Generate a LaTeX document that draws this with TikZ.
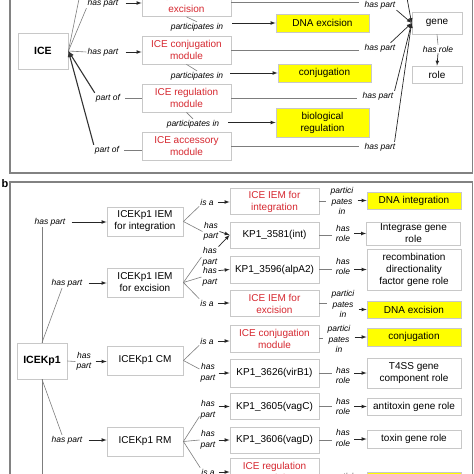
\documentclass[tikz,border=0pt]{standalone}
\usepackage{fontspec}
\setmainfont{Liberation Sans}
\usepackage{tikz}
\usetikzlibrary{calc}
\usetikzlibrary{shapes,arrows}

\definecolor{icered}{RGB}{214,40,48}
\definecolor{hlyellow}{RGB}{255,255,0}
\definecolor{boxgray}{RGB}{200,200,200}
\definecolor{linegray}{RGB}{125,125,125}
\definecolor{framegray}{RGB}{130,130,130}

\begin{document}
\begin{tikzpicture}[x=1pt,y=-1pt,
    box/.style={draw=boxgray,line width=0.8pt,fill=white,align=center,inner sep=1pt,
      font=\fontsize{10}{12}\selectfont,minimum height=26pt},
    modbox/.style={box,text=icered,minimum width=89pt,minimum height=28pt},
    rootbox/.style={box,minimum width=50pt,minimum height=36pt,font=\fontsize{10.5}{12}\selectfont\bfseries},
    kpbox/.style={box,minimum width=76pt,minimum height=29pt},
    cbox/.style={box,minimum width=89pt},
    dbox/.style={box,minimum width=94pt,minimum height=17pt},
    hlbox/.style={fill=hlyellow},
    lbl/.style={font=\fontsize{8.5}{10.5}\selectfont\itshape,inner sep=1pt,align=center},
    link/.style={draw=linegray,line width=0.6pt},
    arr/.style={->,>=latex,line width=0.7pt,draw=black!85},
    partof/.style={->,>=latex,line width=1.1pt,draw=black!80},
    frame/.style={draw=framegray,line width=1.2pt}]

    \useasboundingbox (0,0) rectangle (474,474);

    % panel a
    \draw[frame] (10,-40) rectangle (472.5,173);

    \node[rootbox] (ice) at (43,51) {ICE};
    \node[modbox] (iemex) at (186.5,2.5) {ICE IEM for\\excision};
    \node[modbox] (conjmod) at (186.5,50) {ICE conjugation\\module};
    \node[modbox] (regmod) at (186.5,98) {ICE regulation\\module};
    \node[modbox] (accmod) at (186.5,146.5) {ICE accessory\\module};

    \coordinate (hpa0) at (88,-45);
    \node[lbl] (hpa1) at (103,3) {has part};
    \node[lbl] (hpa2) at (103,52) {has part};
    \node[lbl] (poa3) at (108,98) {part of};
    \node[lbl] (poa4) at (107,150) {part of};

    \draw[link] (ice.east) -- (hpa0);
    \draw[link] (ice.east) -- (hpa1.south west);
    \draw[link] (ice.east) -- (hpa2.west);
    \draw[partof] (poa3.north west) -- (ice.east);
    \draw[partof] (poa4.north west) -- (ice.east);
    \draw[arr] ([xshift=6pt]hpa1.east) -- (hpa1.east -| iemex.west);
    \draw[arr] ([xshift=6pt]hpa2.east) -- (hpa2.east -| conjmod.west);
    \draw[link] ([xshift=4pt]poa3.east) -- (poa3.east -| regmod.west);
    \draw[link] ([xshift=4pt]poa4.east) -- (poa4.east -| accmod.west);

    \node[box,hlbox,minimum width=93pt,minimum height=18pt] (dnaex) at (322.5,23) {DNA excision};
    \node[box,hlbox,minimum width=93pt,minimum height=18pt] (conja) at (324.5,73) {conjugation};
    \node[box,hlbox,minimum width=93pt,minimum height=29pt] (bioreg) at (322.5,122.5) {biological\\regulation};

    \node[lbl] (pia1) at (197,27) {participates in};
    \node[lbl] (pia2) at (197,76) {participates in};
    \node[lbl] (pia3) at (193,124) {participates in};

    \draw[link] (iemex.south) -- (pia1.north);
    \draw[link] (conjmod.south) -- (pia2.north);
    \draw[link] (regmod.south) -- (pia3.north);
    \draw[arr] ([xshift=8pt]pia1.east |- dnaex.west) -- (dnaex.west);
    \draw[arr] ([xshift=6pt]pia2.east |- conja.west) -- (conja.west);
    \draw[arr] ([xshift=8pt]pia3.east |- bioreg.west) -- (bioreg.west);

    \node[box,minimum width=50pt,minimum height=22pt] (gene) at (437,23) {gene};
    \node[box,minimum width=50pt,minimum height=17pt] (role) at (437,74.5) {role};
    \node[lbl] (hrole) at (438,49) {has role};
    \draw[link] (gene.south) -- (hrole.north);
    \draw[arr] (hrole.south) -- (role.north);

    \coordinate (hpr0) at (400,-40);
    \node[lbl] (hpr1) at (380,5) {has part};
    \node[lbl] (hpr2) at (380,48) {has part};
    \node[lbl] (hpr3) at (378,96) {has part};
    \node[lbl] (hpr4) at (380,147) {has part};

    \draw[link] (iemex.east) -- ([xshift=-4pt]iemex.east -| hpr1.west);
    \draw[link] (conjmod.east) -- ([xshift=-4pt]conjmod.east -| hpr2.west);
    \draw[link] (regmod.east) -- ([xshift=-4pt]regmod.east -| hpr3.west);
    \draw[link] (accmod.east) -- ([xshift=-4pt]accmod.east -| hpr4.west);
    \draw[arr] (hpr0) -- (gene.west);
    \draw[arr] (hpr1.south east) -- (gene.west);
    \draw[arr] ([xshift=-6pt]hpr2.north east) -- (gene.west);
    \draw[arr] (hpr3.north east) -- (gene.west);
    \draw[arr] ([xshift=-2pt]hpr4.north east) -- (gene.west);

    % panel b
    \draw[frame] (10,182) rectangle (472.5,530);
    \node[font=\fontsize{11}{12}\selectfont\bfseries,inner sep=0pt] (tagb) at (5,184) {b};

    \node[rootbox] (icekp) at (42,361) {ICEKp1};
    \node[kpbox] (iemint) at (145,221.5) {ICEKp1 IEM\\for integration};
    \node[kpbox] (iemexc) at (145,282.5) {ICEKp1 IEM\\for excision};
    \node[kpbox] (kpcm) at (145,360.5) {ICEKp1 CM};
    \node[kpbox] (kprm) at (145,441.5) {ICEKp1 RM};

    \node[lbl] (hpb1) at (50,222) {has part};
    \node[lbl] (hpb2) at (67,283) {has part};
    \node[lbl] (hpb3) at (84,361.5) {has\\part};
    \node[lbl] (hpb4) at (67,440) {has part};
    \coordinate (hpb5) at (42,530);

    \draw[link] (icekp.north) -- (icekp.north |- hpb1.south);
    \draw[link] (icekp.north) -- ([xshift=-5pt]hpb2.south);
    \draw[link] (icekp.east) -- (hpb3.west);
    \draw[link] (icekp.south) -- ([xshift=-5pt]hpb4.north);
    \draw[link] (icekp.south) -- (hpb5);
    \draw[arr] ([xshift=5pt]hpb1.east) -- (hpb1.east -| iemint.west);
    \draw[arr] ([xshift=5pt]hpb2.east) -- (hpb2.east -| iemexc.west);
    \draw[arr] ([xshift=3pt]hpb3.east) -- (hpb3.east -| kpcm.west);
    \draw[arr] ([xshift=5pt]hpb4.east) -- (hpb4.east -| kprm.west);

    \node[cbox,text=icered] (ciemint) at (274.5,201.5) {ICE IEM for\\integration};
    \node[cbox] (kp3581) at (274.5,235) {KP1\_3581(int)};
    \node[cbox,minimum height=27pt] (kp3596) at (274.5,269.5) {KP1\_3596(alpA2)};
    \node[cbox,text=icered] (ciemexc) at (274.5,303.5) {ICE IEM for\\excision};
    \node[cbox,text=icered,minimum height=27pt] (cconj) at (274.5,338.5) {ICE conjugation\\module};
    \node[cbox,minimum height=28pt] (kp3626) at (274.5,373) {KP1\_3626(virB1)};
    \node[cbox] (kp3605) at (274.5,406.5) {KP1\_3605(vagC)};
    \node[cbox] (kp3606) at (274.5,440) {KP1\_3606(vagD)};
    \node[cbox,text=icered,minimum height=28pt] (creg) at (274.5,472) {ICE regulation\\module};

    \node[lbl] (isa1) at (207,202) {is a};
    \node[lbl] (hpc1) at (211,231.5) {has\\part};
    \node[lbl] (hpc2) at (210,257) {has\\part};
    \node[lbl] (hpc3) at (210,277) {has\\part};
    \node[lbl] (isa2) at (207,303) {is a};
    \node[lbl] (isa3) at (207,341) {is a};
    \node[lbl] (hpc4) at (208,373) {has\\part};
    \node[lbl] (hpc5) at (208,410) {has\\part};
    \node[lbl] (hpc6) at (208,440) {has\\part};
    \node[lbl] (isa4) at (208,472) {is a};

    \draw[link] (iemint.east) -- (isa1.south west);
    \draw[link] (iemint.east) -- (hpc1.west);
    \draw[arr] ([xshift=3pt]isa1.east) -- (isa1.east -| ciemint.west);
    \draw[arr] (hpc1.east) -- (kp3581.west);
    \draw[link] (iemexc.east) -- (hpc2.west);
    \draw[link] (iemexc.east) -- (hpc3.west);
    \draw[link] (iemexc.east) -- (isa2.north west);
    \draw[arr] (hpc2.north east) -- (kp3581.west);
    \draw[arr] ([yshift=-4pt]hpc3.north east) -- (kp3596.west);
    \draw[arr] ([xshift=3pt]isa2.east) -- (isa2.east -| ciemexc.west);
    \draw[link] (kpcm.east) -- (isa3.south west);
    \draw[link] (kpcm.east) -- ([yshift=4pt]hpc4.west);
    \draw[arr] ([xshift=3pt]isa3.east) -- (isa3.east -| cconj.west);
    \draw[arr] ([xshift=2pt]hpc4.east |- kp3626.west) -- (kp3626.west);
    \draw[link] (kprm.east) -- ([yshift=4pt]hpc5.south west);
    \draw[link] (kprm.east) -- (hpc6.west);
    \draw[link] (kprm.east) -- (isa4.north west);
    \draw[arr] ([xshift=2pt]hpc5.east |- kp3605.west) -- (kp3605.west);
    \draw[arr] ([xshift=2pt]hpc6.east |- kp3606.west) -- (kp3606.west);
    \draw[arr] ([xshift=3pt]isa4.east) -- (isa4.east -| creg.west);

    \node[dbox,hlbox] (dnaint) at (414,200.5) {DNA integration};
    \node[dbox,minimum height=23pt] (introle) at (413.5,233.5) {Integrase gene\\role};
    \node[dbox,minimum height=41pt] (recrole) at (414,269.5) {recombination\\directionality\\factor gene role};
    \node[dbox,hlbox] (dnaexb) at (414,309.5) {DNA excision};
    \node[dbox,hlbox,minimum height=18pt] (conjb) at (414,337) {conjugation};
    \node[dbox,minimum height=30pt] (t4ss) at (414,373) {T4SS gene\\component role};
    \node[dbox] (antitox) at (414,406.5) {antitoxin gene role};
    \node[dbox,minimum height=18pt] (toxrole) at (414,439) {toxin gene role};
    \node[dbox,hlbox,minimum height=29pt] (bioregb) at (414,486.5) {};

    \node[lbl] (pib1) at (342,201) {partici\\pates\\in};
    \node[lbl] (hrb2) at (343,233.5) {has\\role};
    \node[lbl] (hrb3) at (343,266.5) {has\\role};
    \node[lbl] (pib4) at (343,304) {partici\\pates\\in};
    \node[lbl] (pib5) at (339,339) {partici\\pates\\in};
    \node[lbl] (hrb6) at (343,375.5) {has\\role};
    \node[lbl] (hrb7) at (343,406.5) {has\\role};
    \node[lbl] (hrb8) at (343,438) {has\\role};
    \node[lbl] (pib9) at (342,487) {partici\\pates\\in};

    \draw[link] (ciemint.east) -- ([xshift=-3pt]ciemint.east -| pib1.west);
    \draw[link] (kp3581.east) -- ([xshift=-3pt]kp3581.east -| hrb2.west);
    \draw[link] (kp3596.east) -- ([xshift=-3pt]kp3596.east -| hrb3.west);
    \draw[link] (ciemexc.east) -- ([xshift=-3pt]ciemexc.east -| pib4.west);
    \draw[link] (cconj.east) -- ([xshift=-3pt]cconj.east -| pib5.west);
    \draw[link] (kp3626.east) -- ([xshift=-3pt]kp3626.east -| hrb6.west);
    \draw[link] (kp3605.east) -- ([xshift=-3pt]kp3605.east -| hrb7.west);
    \draw[link] (kp3606.east) -- ([xshift=-3pt]kp3606.east -| hrb8.west);
    \draw[arr] ([xshift=3pt]pib1.east |- dnaint.west) -- (dnaint.west);
    \draw[arr] ([xshift=3pt]hrb2.east |- introle.west) -- (introle.west);
    \draw[arr] ([xshift=3pt]hrb3.east |- recrole.west) -- (recrole.west);
    \draw[arr] ([xshift=3pt]pib4.east |- dnaexb.west) -- (dnaexb.west);
    \draw[arr] ([xshift=3pt]pib5.east |- conjb.west) -- (conjb.west);
    \draw[arr] ([xshift=3pt]hrb6.east |- t4ss.west) -- (t4ss.west);
    \draw[arr] ([xshift=3pt]hrb7.east |- antitox.west) -- (antitox.west);
    \draw[arr] ([xshift=3pt]hrb8.east |- toxrole.west) -- (toxrole.west);
  \end{tikzpicture}
\end{document}
